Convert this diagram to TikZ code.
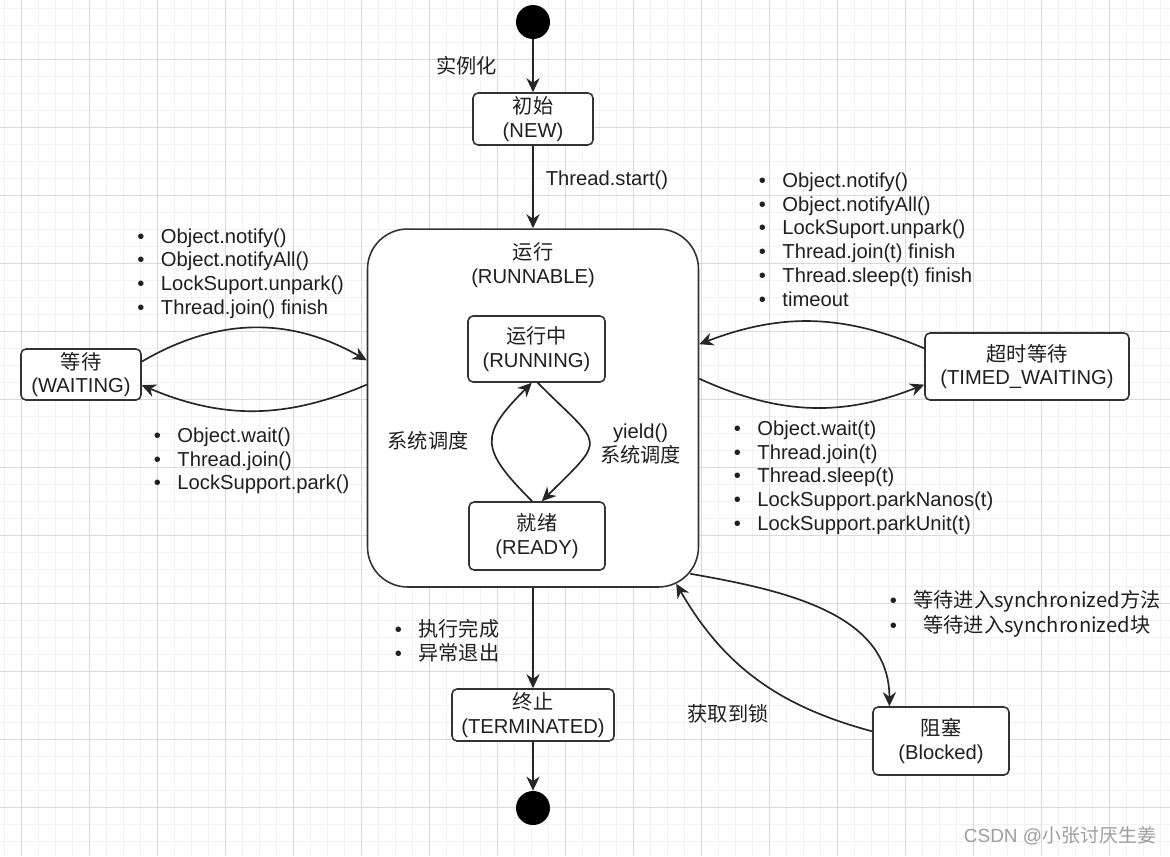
\documentclass[tikz,border=0pt]{standalone}
\usepackage{fontspec}
\setmainfont{Liberation Sans}
\newfontfamily\cjk{Noto Sans CJK SC}
\usepackage{tikz}
\usetikzlibrary{arrows.meta,calc,positioning}

\newcommand{\bl}{\textbullet\hspace{9.4pt}}

\tikzset{
  stbox/.style={draw=black!80, line width=0.9pt, fill=white, rounded corners=0.1cm, align=center, inner sep=0pt, text=black!88},
  endpt/.style={circle, fill=black, minimum size=0.68cm, inner sep=0pt},
  arr/.style={-{Stealth[length=8pt,width=7.5pt]}, line width=0.95pt, black!85},
  txt/.style={inner sep=0pt, align=left, text=black!88},
}

\begin{document}
\begin{tikzpicture}[x=0.02cm, y=-0.02cm, font=\fontsize{11.5}{13.5}\selectfont]
        \useasboundingbox (0,0) rectangle (1170,856);
        \fill[white] (0,0) rectangle (1170,856);
        % grid
        \foreach \g in {4,21,...,1170} \draw[gray!10, line width=0.5pt] (\g,0) -- (\g,856);
        \foreach \g in {8,25,...,856} \draw[gray!10, line width=0.5pt] (0,\g) -- (1170,\g);
        \foreach \g in {21,89,...,1170} \draw[gray!30, line width=0.5pt] (\g,0) -- (\g,856);
        \foreach \g in {59,127,...,856} \draw[gray!30, line width=0.5pt] (0,\g) -- (1170,\g);

        % states
        \node[endpt] (start) at (533,22) {};
        \node[stbox, minimum width=2.4cm, minimum height=1.04cm] (new) at (533,119) {{\cjk 初始}\\(NEW)};
        \node[stbox, rounded corners=0.8cm, minimum width=6.62cm, minimum height=7.16cm] (runnable) at (533,408) {};
        \node[txt, align=center, below=0.28cm of runnable.north] (runtitle) {{\cjk 运行}\\(RUNNABLE)};
        \node[stbox, minimum width=2.74cm, minimum height=1.32cm] (running) at (536.5,349) {{\cjk 运行中}\\(RUNNING)};
        \node[stbox, minimum width=2.72cm, minimum height=1.36cm] (ready) at (537,536) {{\cjk 就绪}\\(READY)};
        \node[stbox, minimum width=2.4cm, minimum height=1.02cm] (waiting) at (81,374.5) {{\cjk 等待}\\(WAITING)};
        \node[stbox, minimum width=4.08cm, minimum height=1.34cm] (timed) at (1027,366.5) {{\cjk 超时等待}\\(TIMED\_WAITING)};
        \node[stbox, minimum width=2.72cm, minimum height=1.36cm] (blocked) at (941,741) {{\cjk 阻塞}\\(Blocked)};
        \node[stbox, minimum width=3.24cm, minimum height=1.04cm] (term) at (533,715) {{\cjk 终止}\\(TERMINATED)};
        \node[endpt] (end) at (533,808) {};

        % transitions
        \draw[arr] (start) -- node[txt, left=20pt] {{\cjk 实例化}} (new);
        \draw[arr] (new) -- node[txt, pos=0.42, right=6.8pt] {Thread.start()} (runnable);
        \draw[arr] (runnable) -- (term);
        \draw[arr] (term) -- (end);
        \draw[arr] (waiting.12) to[bend left=30] (runnable.164);
        \draw[arr] (runnable.172) to[bend left=23] (waiting.-10);
        \draw[arr] (timed.170) to[bend right=22] (runnable.21);
        \draw[arr] (runnable.10) to[bend right=23] (timed.190);
        \draw[arr] (ready.98) to[out=135, in=225, looseness=1.6] (running.262);
        \draw[arr] (running.272) to[out=-45, in=45, looseness=2] (ready.82);
        \draw[arr] ([shift={(-9,-14)}]runnable.south east) to[out=-10, in=90] (blocked.146);
        \draw[arr] (blocked.172) to[out=165, in=-60] ([shift={(-23,-4)}]runnable.south east);

        % labels
        \node[txt, anchor=west] (waitin) at (137,273.5) {\bl Object.notify()\\ \bl Object.notifyAll()\\ \bl LockSuport.unpark()\\ \bl Thread.join() finish};
        \node[txt, anchor=west] (waitout) at (153.5,461) {\bl Object.wait()\\ \bl Thread.join()\\ \bl LockSupport.park()};
        \node[txt, anchor=west] (timedin) at (758.5,239.5) {\bl Object.notify()\\ \bl Object.notifyAll()\\ \bl LockSuport.unpark()\\ \bl Thread.join(t) finish\\ \bl Thread.sleep(t) finish\\ \bl timeout};
        \node[txt, anchor=west] (timedout) at (733.5,477.5) {\bl Object.wait(t)\\ \bl Thread.join(t)\\ \bl Thread.sleep(t)\\ \bl LockSupport.parkNanos(t)\\ \bl LockSupport.parkUnit(t)};
        \node[txt, anchor=west] (blockin) at (889.5,615) {\begin{tabular}{@{}l@{\hspace{9.4pt}}c@{}}\textbullet & {\cjk 等待进入synchronized方法}\\ \textbullet & {\cjk 等待进入synchronized块}\end{tabular}};
        \node[txt, anchor=west] (termin) at (394.5,640.5) {\bl {\cjk 执行完成}\\ \bl {\cjk 异常退出}};
        \node[txt] (schedl) at (428,441) {{\cjk 系统调度}};
        \node[txt, align=center] (schedr) at (640.5,444) {yield()\\ {\cjk 系统调度}};
        \node[txt] (lock) at (728,714) {{\cjk 获取到锁}};
        \node[txt, text=black!38, font=\fontsize{10.8}{13}\selectfont] (mark) at (1060,836) {CSDN @{\cjk 小张讨厌生姜}};
\end{tikzpicture}
\end{document}
